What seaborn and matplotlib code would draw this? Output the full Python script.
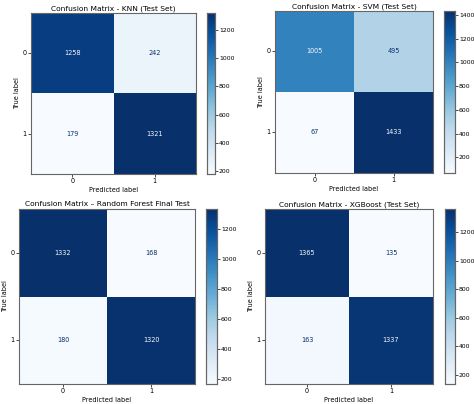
import numpy as np
import matplotlib
matplotlib.use("Agg")
import matplotlib.pyplot as plt
import seaborn as sns

# Confusion matrices
labels = ["0", "1"]
titles = [
    "Confusion Matrix - KNN (Test Set)",
    "Confusion Matrix - SVM (Test Set)",
    "Confusion Matrix \u2013 Random Forest Final Test",
    "Confusion Matrix - XGBoost (Test Set)",
]
cm_knn = [[1258, 242], [179, 1321]]
cm_svm = [[1005, 495], [67, 1433]]
cm_rf = [[1332, 168], [180, 1320]]
cm_xgb = [[1365, 135], [163, 1337]]
matrices = [cm_knn, cm_svm, cm_rf, cm_xgb]

W, H = 474, 404
fig = plt.figure(figsize=(W / 100, H / 100), dpi=100)

# pixel boxes (left, top, right, bottom) for heatmap and colorbar
boxes = [
    ((31, 13, 196, 174), (207, 13, 215, 174)),
    ((275, 11, 433, 173), (444, 11, 455, 173)),
    ((19, 209, 195, 384), (206, 209, 217, 384)),
    ((265, 209, 433, 384), (445, 209, 455, 384)),
]


def px_axes(box):
    l, t, r, b = box
    return fig.add_axes([l / W, 1 - b / H, (r - l) / W, (b - t) / H])


cmap = plt.get_cmap("Blues")
fs = 4.7

for cm, title, (abox, cbox) in zip(matrices, titles, boxes):
    cm = np.array(cm)
    ax = px_axes(abox)
    cax = px_axes(cbox)
    sns.heatmap(cm, ax=ax, cbar_ax=cax, cmap="Blues", annot=False,
                xticklabels=labels, yticklabels=labels)
    # sklearn-style annotation colours
    thresh = (cm.max() + cm.min()) / 2
    for i in range(2):
        for j in range(2):
            col = cmap(0) if cm[i, j] > thresh else cmap(256)
            ax.text(j + 0.5, i + 0.5, str(cm[i, j]), ha="center", va="center",
                    color=col, fontsize=fs)
    for s in ax.spines.values():
        s.set_visible(True)
        s.set_color("#666666")
        s.set_linewidth(0.8)
    ax.tick_params(labelsize=fs, length=2, width=0.5, pad=1)
    ax.set_yticklabels(labels, rotation=0)
    ax.set_xticklabels(labels, rotation=0)
    ax.set_xlabel("Predicted label", fontsize=fs, labelpad=2)
    ax.set_ylabel("True label", fontsize=fs, labelpad=2)
    ax.set_title(title, fontsize=5.4, pad=2)
    cax.set_yticks(np.arange(200, cm.max() + 1, 200))
    cax.tick_params(labelsize=4.4, length=2, width=0.5, pad=0.8)
    for s in cax.spines.values():
        s.set_visible(True)
        s.set_color("#666666")
        s.set_linewidth(0.8)

fig.savefig("out.png", dpi=100, facecolor="white")
